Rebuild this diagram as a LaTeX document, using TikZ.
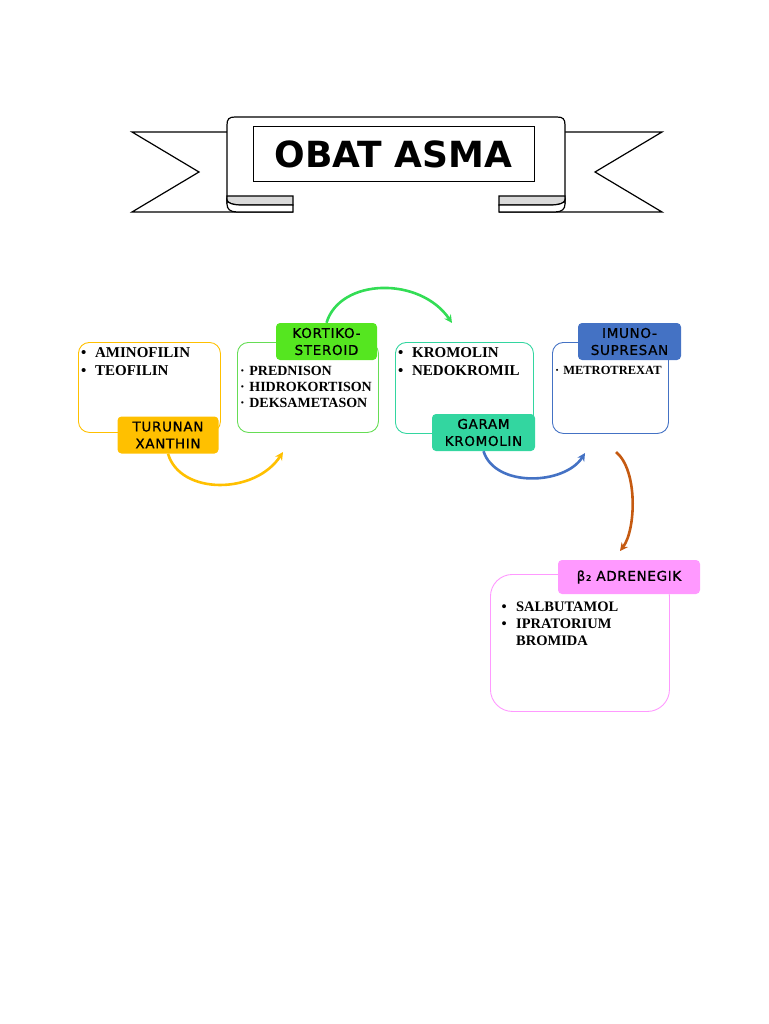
\documentclass[tikz,border=0pt]{standalone}
\usepackage{fontspec}
\setmainfont{Liberation Serif}
\newfontfamily\labelfont{DejaVu Sans}[FakeBold=0.9, LetterSpace=5]
\newfontfamily\titlefont{DejaVu Sans}
\usetikzlibrary{arrows.meta}

\definecolor{xanthincol}{HTML}{FFC000}
\definecolor{kortikocol}{HTML}{55E620}
\definecolor{kortikoline}{HTML}{66DD55}
\definecolor{kortikoarrow}{HTML}{33DD55}
\definecolor{garamcol}{HTML}{33D6A0}
\definecolor{imunocol}{HTML}{4472C4}
\definecolor{betacol}{HTML}{FF99FF}
\definecolor{betaarrow}{HTML}{C55A11}

\begin{document}
\begin{tikzpicture}[
    x=1pt, y=-1pt,
    itembox/.style={
        draw=#1,
        rounded corners=11,
        line width=0.9,
        anchor=north west,
        inner sep=0
    },
    tag/.style={
        fill=#1,
        rounded corners=4,
        inner sep=0,
        minimum height=37,
        align=center,
        font=\labelfont\fontsize{13.5}{17}\selectfont
    },
    items/.style={
        anchor=north west,
        inner sep=0,
        align=left
    },
    arrow/.style={-{Stealth[length=8pt,width=8pt]}, line width=2.6}
]
\useasboundingbox (0,0) rectangle (768,1024);

% Banner
\draw[line width=1.2, fill=white] (293,132) -- (132,132) -- (199,172) -- (132,212) -- (293,212);
\draw[line width=1.2, fill=white] (499,132) -- (662,132) -- (595,172) -- (662,212) -- (499,212);
\draw[line width=1.2, fill=white] (227,204) -- (227,125) .. controls (227,119) and (229,117) .. (235,117)
    -- (557,117) .. controls (563,117) and (565,119) .. (565,125) -- (565,204);
% left fold
\draw[line width=1.2, fill=gray!30] (227,196) -- (293,196) -- (293,205) -- (242,205)
    .. controls (233,205) and (227,203) .. (227,200) -- cycle;
\draw[line width=1.2, fill=white] (293,205) -- (242,205) .. controls (233,205) and (227,203) .. (227,200)
    -- (227,204) .. controls (227,209) and (230,212) .. (237,212) -- (293,212) -- cycle;
% right fold
\draw[line width=1.2, fill=gray!30] (565,196) -- (499,196) -- (499,205) -- (550,205)
    .. controls (559,205) and (565,203) .. (565,200) -- cycle;
\draw[line width=1.2, fill=white] (499,205) -- (550,205) .. controls (559,205) and (565,203) .. (565,200)
    -- (565,204) .. controls (565,209) and (562,212) .. (555,212) -- (499,212) -- cycle;
\node[draw, line width=1, fill=white, minimum width=281, minimum height=55,
      font=\titlefont\bfseries\fontsize{36}{40}\selectfont] (title) at (393.5,154.5) {OBAT ASMA};

% Boxes
\node[itembox=xanthincol, minimum width=142, minimum height=90] (b1) at (78,342) {};
\node[itembox=kortikoline, minimum width=141, minimum height=90] (b2) at (237,342) {};
\node[itembox=garamcol, minimum width=138, minimum height=91] (b3) at (395,342) {};
\node[itembox=imunocol, minimum width=116, minimum height=91] (b4) at (552,342) {};
\node[itembox=betacol, rounded corners=22, minimum width=179, minimum height=137] (b5) at (490,574) {};

% Lists
\node[items, font=\bfseries\fontsize{15}{18}\selectfont] (l1) at (81,344.4)
    {\begin{tabular}{@{}l@{\hspace{8.7pt}}l@{}} \textbullet & AMINOFILIN\\ \textbullet & TEOFILIN \end{tabular}};
\node[items, font=\bfseries\fontsize{14}{16}\selectfont] (l2) at (240,364.4)
    {\begin{tabular}{@{}l@{\hspace{4.5pt}}l@{}} · & PREDNISON\\ · & HIDROKORTISON\\ · & DEKSAMETASON \end{tabular}};
\node[items, font=\bfseries\fontsize{15}{18}\selectfont] (l3) at (398,344.4)
    {\begin{tabular}{@{}l@{\hspace{8.7pt}}l@{}} \textbullet & KROMOLIN\\ \textbullet & NEDOKROMIL \end{tabular}};
\node[items, font=\bfseries\fontsize{12.5}{15}\selectfont] (l4) at (555,363.5)
    {\begin{tabular}{@{}l@{\hspace{3.9pt}}l@{}} · & METROTREXAT \end{tabular}};
\node[items, font=\bfseries\fontsize{14.5}{17}\selectfont] (l5) at (501.5,599)
    {\begin{tabular}{@{}l@{\hspace{9.4pt}}l@{}} \textbullet & SALBUTAMOL\\ \textbullet & IPRATORIUM\\ & BROMIDA \end{tabular}};

% Tags
\node[tag=xanthincol, minimum width=101] (xanthin) at (168,435) {TURUNAN\\XANTHIN};
\node[tag=kortikocol, minimum width=101] (kortiko) at (326.5,341.5) {KORTIKO-\\STEROID};
\node[tag=garamcol, minimum width=103] (garam) at (483.5,432.5) {GARAM\\KROMOLIN};
\node[tag=imunocol, minimum width=103] (imuno) at (629.5,341.5) {IMUNO-\\SUPRESAN};
\node[tag=betacol, minimum width=142, minimum height=34] (beta) at (629,577) {β₂ ADRENEGIK};

% Arrows
\coordinate (e1) at (283,452);
\coordinate (e2) at (452,323);
\coordinate (e3) at (585,453);
\coordinate (s4) at (616,452);
\coordinate (e4) at (620,551);
\draw[arrow, xanthincol] (xanthin.south) .. controls (180,495) and (255,495) .. (e1);
\draw[arrow, kortikoarrow] (kortiko.north) .. controls (340,278) and (420,276) .. (e2);
\draw[arrow, imunocol] (garam.south) .. controls (495,488) and (565,485) .. (e3);
\draw[arrow, betaarrow] (s4) .. controls (638,470) and (636,530) .. (e4);

\end{tikzpicture}
\end{document}
